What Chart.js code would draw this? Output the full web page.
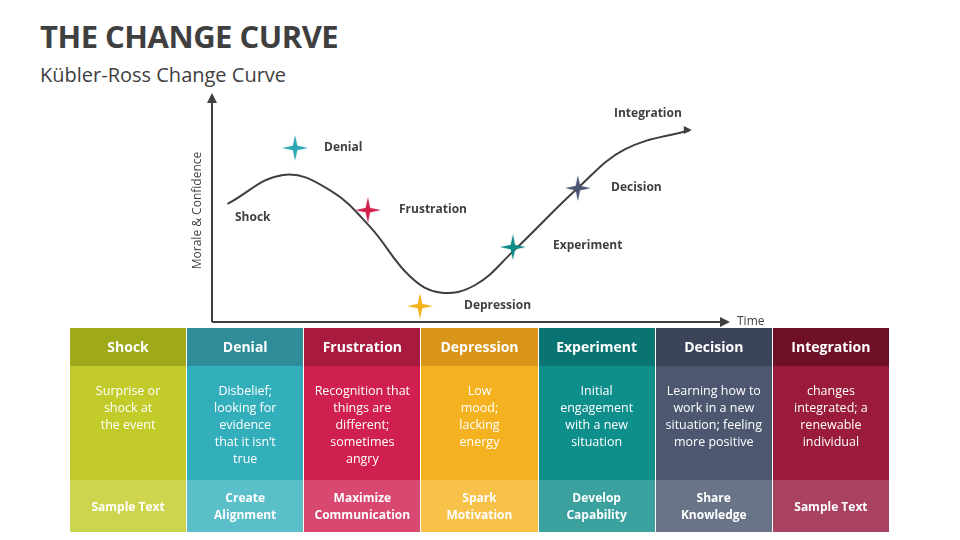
<!DOCTYPE html>
<html>
<head>
<meta charset="utf-8">
<script src="https://cdn.jsdelivr.net/npm/chart.js@4.4.0/dist/chart.umd.min.js"></script>
<style>
  body { margin: 0; width: 960px; height: 540px; overflow: hidden; background: #fff; font-family: "Open Sans", sans-serif; }
  #title { position: absolute; left: 40px; top: 15px; font-size: 31px; font-weight: bold; color: #3f3f3f; letter-spacing: -0.5px; }
  #subtitle { position: absolute; left: 40px; top: 61px; font-size: 20px; color: #3f3f3f; }
  #wrap { position: absolute; left: 0; top: 0; width: 960px; height: 540px; }
  #table { position: absolute; left: 70px; top: 328px; width: 820px; height: 204px; display: flex; }
  .col { flex: 1; display: flex; flex-direction: column; color: #fff; text-align: center; border-right: 1px solid #fff; }
  .head { height: 38px; line-height: 38px; font-weight: bold; font-size: 14px; }
  .body { flex: 1; font-size: 12.5px; line-height: 17px; padding: 16px 4px 0; }
  .foot { height: 52px; font-weight: bold; font-size: 12px; line-height: 17px; display: flex; align-items: center; justify-content: center; }
</style>
</head>
<body>
<div id="title">THE CHANGE CURVE</div>
<div id="subtitle">Kübler-Ross Change Curve</div>
<div id="wrap"><canvas id="chart" width="960" height="540"></canvas></div>
<div id="table"></div>
<script>
// curve through the stages (x: time 0-100, y: morale 0-100)
const curveX = [3, 13.8, 22.9, 30.6, 38.4, 44.2, 51, 58.3, 70.9, 80, 92.6];
const curveY = [52, 64.8, 58, 42, 20, 13, 16.3, 31, 59, 76, 84.6];

// stars near the curve
const starX = [16.1, 30.2, 40.3, 58.3, 70.9];
const starY = [76.7, 49.3, 7, 33, 59];

const stages = ["Shock", "Denial", "Frustration", "Depression", "Experiment", "Decision", "Integration"];
const descriptions = [
  "Surprise or<br>shock at<br>the event",
  "Disbelief;<br>looking for<br>evidence<br>that it isn’t<br>true",
  "Recognition that<br>things are<br>different;<br>sometimes<br>angry",
  "Low<br>mood;<br>lacking<br>energy",
  "Initial<br>engagement<br>with a new<br>situation",
  "Learning how to<br>work in a new<br>situation; feeling<br>more positive",
  "changes<br>integrated; a<br>renewable<br>individual"
];
const actions = ["Sample Text", "Create<br>Alignment", "Maximize<br>Communication", "Spark<br>Motivation", "Develop<br>Capability", "Share<br>Knowledge", "Sample Text"];

// colours per stage: header, body, footer
const headColors = ["#9eaa1a", "#2e8d98", "#a81b3e", "#d9951a", "#0a7472", "#3b4459", "#6e1028"];
const bodyColors = ["#c2cb2a", "#33aebb", "#d0204f", "#f5b220", "#0e8f8c", "#4d5870", "#9b1b3d"];
const footColors = ["#cdd54f", "#5bbfc9", "#d84870", "#f7c14a", "#3aa19f", "#6a7488", "#a94260"];
const starColors = ["#2ea8b5", "#d21f4e", "#f5b21a", "#0e8a87", "#4a5670"];

// label placement (pixel offsets), kept apart from the data
const labelSpots = [
  { text: "Shock", x: 235, y: 218 },
  { text: "Denial", x: 324, y: 148 },
  { text: "Frustration", x: 399, y: 210 },
  { text: "Depression", x: 464, y: 306 },
  { text: "Experiment", x: 553, y: 246 },
  { text: "Decision", x: 611, y: 188 },
  { text: "Integration", x: 614, y: 114 }
];

// build the table
const table = document.getElementById("table");
stages.forEach((s, i) => {
  table.innerHTML += `
    <div class="col">
      <div class="head" style="background:${headColors[i]}">${s}</div>
      <div class="body" style="background:${bodyColors[i]}">${descriptions[i]}</div>
      <div class="foot" style="background:${footColors[i]}">${actions[i]}</div>
    </div>`;
});

function makeStar(color) {
  const c = document.createElement("canvas");
  c.width = 26; c.height = 26;
  const g = c.getContext("2d");
  g.fillStyle = color;
  g.beginPath();
  const cx = 13, cy = 13, R = 13, r = 3.2;
  for (let k = 0; k < 8; k++) {
    const a = -Math.PI / 2 + k * Math.PI / 4;
    const rad = k % 2 === 0 ? R : r;
    g.lineTo(cx + rad * Math.cos(a), cy + rad * Math.sin(a));
  }
  g.closePath();
  g.fill();
  return c;
}

const decor = {
  id: "decor",
  afterDraw(chart) {
    const ctx = chart.ctx;
    const a = chart.chartArea;
    ctx.save();
    ctx.strokeStyle = "#3f3f3f";
    ctx.fillStyle = "#3f3f3f";
    ctx.lineWidth = 2;
    // axes
    ctx.beginPath();
    ctx.moveTo(a.left, a.bottom); ctx.lineTo(a.left, a.top + 4);
    ctx.moveTo(a.left, a.bottom); ctx.lineTo(a.right - 4, a.bottom);
    ctx.stroke();
    ctx.beginPath();
    ctx.moveTo(a.left, a.top - 2); ctx.lineTo(a.left - 5, a.top + 8); ctx.lineTo(a.left + 5, a.top + 8); ctx.fill();
    ctx.beginPath();
    ctx.moveTo(a.right + 2, a.bottom); ctx.lineTo(a.right - 8, a.bottom - 5); ctx.lineTo(a.right - 8, a.bottom + 5); ctx.fill();
    // curve end arrow
    const pts = chart.getDatasetMeta(0).data;
    const p = pts[pts.length - 1];
    ctx.beginPath();
    ctx.moveTo(p.x + 2, p.y); ctx.lineTo(p.x - 6, p.y - 4); ctx.lineTo(p.x - 6, p.y + 4); ctx.fill();
    // axis titles
    ctx.font = "12px 'Open Sans'";
    ctx.textBaseline = "middle";
    ctx.fillText("Time", a.right + 9, a.bottom);
    ctx.translate(a.left - 14, (a.top + a.bottom) / 2 + 2);
    ctx.rotate(-Math.PI / 2);
    ctx.textAlign = "center";
    ctx.fillText("Morale & Confidence", 0, 0);
    ctx.setTransform(chart.currentDevicePixelRatio, 0, 0, chart.currentDevicePixelRatio, 0, 0);
    ctx.textAlign = "left";
    ctx.font = "bold 12px 'Open Sans'";
    labelSpots.forEach(l => ctx.fillText(l.text, l.x, l.y));
    ctx.restore();
  }
};

new Chart(document.getElementById("chart"), {
  type: "line",
  data: {
    datasets: [
      {
        data: curveX.map((x, i) => ({ x: x, y: curveY[i] })),
        borderColor: "#3f3f3f",
        borderWidth: 2,
        pointRadius: 0,
        tension: 0.4,
        order: 2
      },
      {
        data: starX.map((x, i) => ({ x: x, y: starY[i] })),
        showLine: false,
        pointStyle: starColors.map(makeStar),
        order: 1
      }
    ]
  },
  options: {
    responsive: false,
    animation: false,
    layout: { padding: { left: 212, right: 232, top: 95, bottom: 218 } },
    plugins: { legend: { display: false }, tooltip: { enabled: false } },
    scales: {
      x: { type: "linear", min: 0, max: 100, display: false },
      y: { min: 0, max: 100, display: false }
    }
  },
  plugins: [decor]
});
</script>
</body>
</html>
